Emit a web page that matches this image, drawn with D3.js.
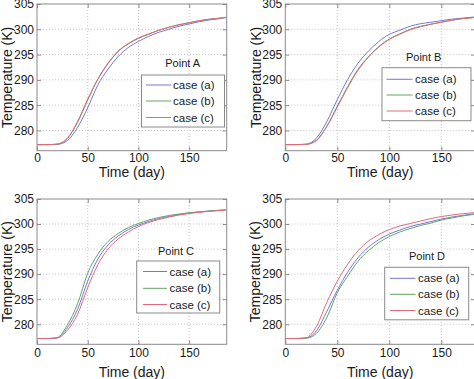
<!DOCTYPE html>
<html>
<head>
<meta charset="utf-8">
<script src="https://cdn.jsdelivr.net/npm/d3@7"></script>
<style>
body { margin: 0; background: #fff; }
svg { font-family: "Liberation Sans", Arial, sans-serif; }
</style>
</head>
<body>
<svg id="chart" width="474" height="379"></svg>
<script>
// time axis (days) and labels
let days = [0, 10, 20, 30, 40, 50, 60, 70, 80, 90, 100, 110, 120, 130, 140, 150, 160, 170, 180, 186];
let caseNames = ["case (a)", "case (b)", "case (c)"];
let pointNames = ["Point A", "Point B", "Point C", "Point D"];
let xTicks = [0, 50, 100, 150];
let yTicks = [280, 285, 290, 295, 300, 305];

// temperature (K)
let pointA_a = [277.2, 277.2, 277.25, 278.0, 280.6, 284.5, 289.0, 292.1, 294.6, 296.4, 297.6, 298.6, 299.4, 300.0, 300.6, 301.05, 301.5, 301.85, 302.1, 302.3];
let pointA_b = [277.2, 277.2, 277.3, 278.4, 281.6, 286.0, 290.1, 293.2, 295.6, 297.1, 298.2, 299.0, 299.8, 300.4, 300.9, 301.3, 301.7, 302.0, 302.2, 302.35];
let pointA_c = [277.2, 277.2, 277.3, 278.5, 281.8, 286.2, 290.2, 293.3, 295.7, 297.2, 298.3, 299.1, 299.8, 300.4, 300.9, 301.3, 301.7, 302.0, 302.2, 302.35];

let pointB_a = [277.2, 277.2, 277.3, 278.5, 281.8, 286.1, 290.1, 293.3, 295.7, 297.6, 299.0, 299.8, 300.6, 301.1, 301.4, 301.7, 302.0, 302.2, 302.4, 302.5];
let pointB_b = [277.2, 277.2, 277.25, 278.1, 280.9, 284.8, 288.7, 292.1, 294.6, 296.6, 298.1, 299.1, 300.0, 300.6, 301.0, 301.4, 301.8, 302.1, 302.3, 302.45];
let pointB_c = [277.2, 277.2, 277.25, 278.0, 280.8, 284.6, 288.5, 291.9, 294.5, 296.5, 298.0, 299.0, 299.9, 300.5, 301.0, 301.4, 301.8, 302.1, 302.3, 302.45];

let pointC_a = [277.15, 277.15, 277.3, 279.3, 283.0, 288.6, 293.0, 295.8, 297.6, 298.9, 299.8, 300.5, 301.1, 301.5, 301.9, 302.2, 302.4, 302.6, 302.75, 302.8];
let pointC_b = [277.15, 277.15, 277.35, 279.9, 284.1, 290.2, 294.0, 296.5, 298.1, 299.3, 300.1, 300.8, 301.3, 301.7, 302.0, 302.25, 302.45, 302.6, 302.75, 302.8];
let pointC_c = [277.15, 277.15, 277.25, 278.8, 282.0, 287.3, 291.9, 295.0, 297.0, 298.4, 299.5, 300.3, 300.9, 301.4, 301.8, 302.1, 302.35, 302.55, 302.7, 302.8];

let pointD_a = [277.15, 277.15, 277.25, 278.7, 282.6, 286.8, 290.4, 293.3, 295.4, 296.9, 298.0, 298.8, 299.5, 300.0, 300.5, 301.0, 301.4, 301.7, 302.0, 302.1];
let pointD_b = [277.15, 277.15, 277.2, 278.2, 281.4, 286.3, 289.6, 292.6, 294.7, 296.3, 297.5, 298.4, 299.1, 299.7, 300.2, 300.8, 301.2, 301.6, 301.9, 302.05];
let pointD_c = [277.15, 277.15, 277.3, 279.6, 284.4, 288.6, 292.0, 294.7, 296.6, 297.9, 298.9, 299.6, 300.1, 300.6, 301.1, 301.5, 301.8, 302.05, 302.25, 302.35];

let colors = ["#7676d6", "#62a466", "#e06a7c"];

// layout of the four subplots (pixels)
let panels = [
    { series: [pointA_a, pointA_b, pointA_c], left: 37, right: 226.7, top: 4, bottom: 150.7, xMax: 187,
      tickPad: 3, titleY: 177, ylabX: 12,
      box: [141.5, 75, 83, 52], rows: [85, 101, 117.5], lineX: [146, 171], textX: 173, label: [182.7, 63.3] },
    { series: [pointB_a, pointB_b, pointB_c], left: 285.3, right: 475, top: 4, bottom: 150.7, xMax: 182.4,
      tickPad: 3, titleY: 177, ylabX: 261,
      box: [382, 67.7, 89, 53], rows: [79.3, 95, 111], lineX: [386.5, 412.5], textX: 415, label: [423.7, 57.3] },
    { series: [pointC_a, pointC_b, pointC_c], left: 37, right: 226.7, top: 199, bottom: 344.3, xMax: 187,
      tickPad: 4.5, titleY: 376.5, ylabX: 12,
      box: [136.7, 261, 83, 52], rows: [271.5, 288.3, 304.5], lineX: [143, 167], textX: 169.5, label: [176, 250.7] },
    { series: [pointD_a, pointD_b, pointD_c], left: 285.3, right: 475, top: 199, bottom: 344.3, xMax: 182.4,
      tickPad: 4.5, titleY: 376.5, ylabX: 260,
      box: [384.7, 267.3, 84, 52.5], rows: [278.3, 294.3, 310.5], lineX: [390, 415.5], textX: 418, label: [427, 256.3] }
];

let svg = d3.select("#chart");

panels.forEach(function (p, i) {
    let x = d3.scaleLinear().domain([0, p.xMax]).range([p.left, p.right]);
    let y = d3.scaleLinear().domain([276, 305]).range([p.bottom, p.top]);
    let g = svg.append("g");

    // dotted grid
    g.selectAll(".gx").data(xTicks.filter(d => d > 0)).enter().append("line")
        .attr("x1", d => x(d)).attr("x2", d => x(d))
        .attr("y1", p.top).attr("y2", p.bottom)
        .attr("stroke", "#c4c4c4").attr("stroke-dasharray", "1,2");
    g.selectAll(".gy").data(yTicks.filter(d => d < 305)).enter().append("line")
        .attr("x1", p.left).attr("x2", p.right)
        .attr("y1", d => y(d)).attr("y2", d => y(d))
        .attr("stroke", "#c4c4c4").attr("stroke-dasharray", "1,2");

    // curves, clipped to the axes box
    let clipId = "clip" + i;
    svg.append("clipPath").attr("id", clipId).append("rect")
        .attr("x", p.left).attr("y", p.top)
        .attr("width", p.right - p.left).attr("height", p.bottom - p.top);

    let line = d3.line()
        .x((d, k) => x(days[k]))
        .y(d => y(d))
        .curve(d3.curveMonotoneX);

    g.append("g").attr("clip-path", "url(#" + clipId + ")")
        .selectAll("path").data(p.series).enter().append("path")
        .attr("d", d => line(d))
        .attr("fill", "none")
        .attr("stroke", (d, k) => colors[k])
        .attr("stroke-width", 1);

    // axes, Matlab style: ticks pointing inwards
    let xAxis = d3.axisBottom(x).tickValues(xTicks).tickSizeInner(-4).tickSizeOuter(0).tickPadding(p.tickPad);
    let yAxis = d3.axisLeft(y).tickValues(yTicks).tickSizeInner(-4).tickSizeOuter(0).tickPadding(3);

    let ax = g.append("g").attr("transform", "translate(0," + p.bottom + ")").call(xAxis);
    let ay = g.append("g").attr("transform", "translate(" + p.left + ",0)").call(yAxis);
    let at = g.append("g").attr("transform", "translate(0," + p.top + ")")
        .call(d3.axisTop(x).tickValues(xTicks).tickSizeInner(-4).tickSizeOuter(0).tickFormat(""));
    let ar = g.append("g").attr("transform", "translate(" + p.right + ",0)")
        .call(d3.axisRight(y).tickValues(yTicks).tickSizeInner(-4).tickSizeOuter(0).tickFormat(""));

    [ax, ay, at, ar].forEach(function (a) {
        a.select(".domain").remove();
        a.selectAll("line").attr("stroke", "#8a8a8a");
        a.selectAll("text").attr("fill", "#1a1a1a").style("font-size", "12px")
            .style("font-family", "'Liberation Sans', Arial, sans-serif");
    });

    g.append("rect")
        .attr("x", p.left).attr("y", p.top)
        .attr("width", p.right - p.left).attr("height", p.bottom - p.top)
        .attr("fill", "none").attr("stroke", "#8a8a8a");

    // axis titles
    g.append("text")
        .attr("x", (p.left + p.right) / 2).attr("y", p.titleY)
        .attr("text-anchor", "middle").attr("fill", "#1a1a1a")
        .style("font-size", "14px").text("Time (day)");
    g.append("text")
        .attr("transform", "translate(" + p.ylabX + "," + (p.top + p.bottom) / 2 + ") rotate(-90)")
        .attr("text-anchor", "middle").attr("fill", "#1a1a1a")
        .style("font-size", "14px").text("Temperature (K)");

    // point label + legend
    g.append("text")
        .attr("x", p.label[0]).attr("y", p.label[1])
        .attr("text-anchor", "middle").attr("dy", "0.35em").attr("fill", "#1a1a1a")
        .style("font-size", "11px").text(pointNames[i]);

    g.append("rect")
        .attr("x", p.box[0]).attr("y", p.box[1])
        .attr("width", p.box[2]).attr("height", p.box[3])
        .attr("fill", "#fff").attr("stroke", "#8a8a8a");

    let leg = g.selectAll(".leg").data(caseNames).enter().append("g");
    leg.append("line")
        .attr("x1", p.lineX[0]).attr("x2", p.lineX[1])
        .attr("y1", (d, k) => p.rows[k]).attr("y2", (d, k) => p.rows[k])
        .attr("stroke", (d, k) => colors[k]);
    leg.append("text")
        .attr("x", p.textX).attr("y", (d, k) => p.rows[k])
        .attr("dy", "0.35em").attr("fill", "#1a1a1a")
        .style("font-size", "11.5px").text(d => d);
});
</script>
</body>
</html>
